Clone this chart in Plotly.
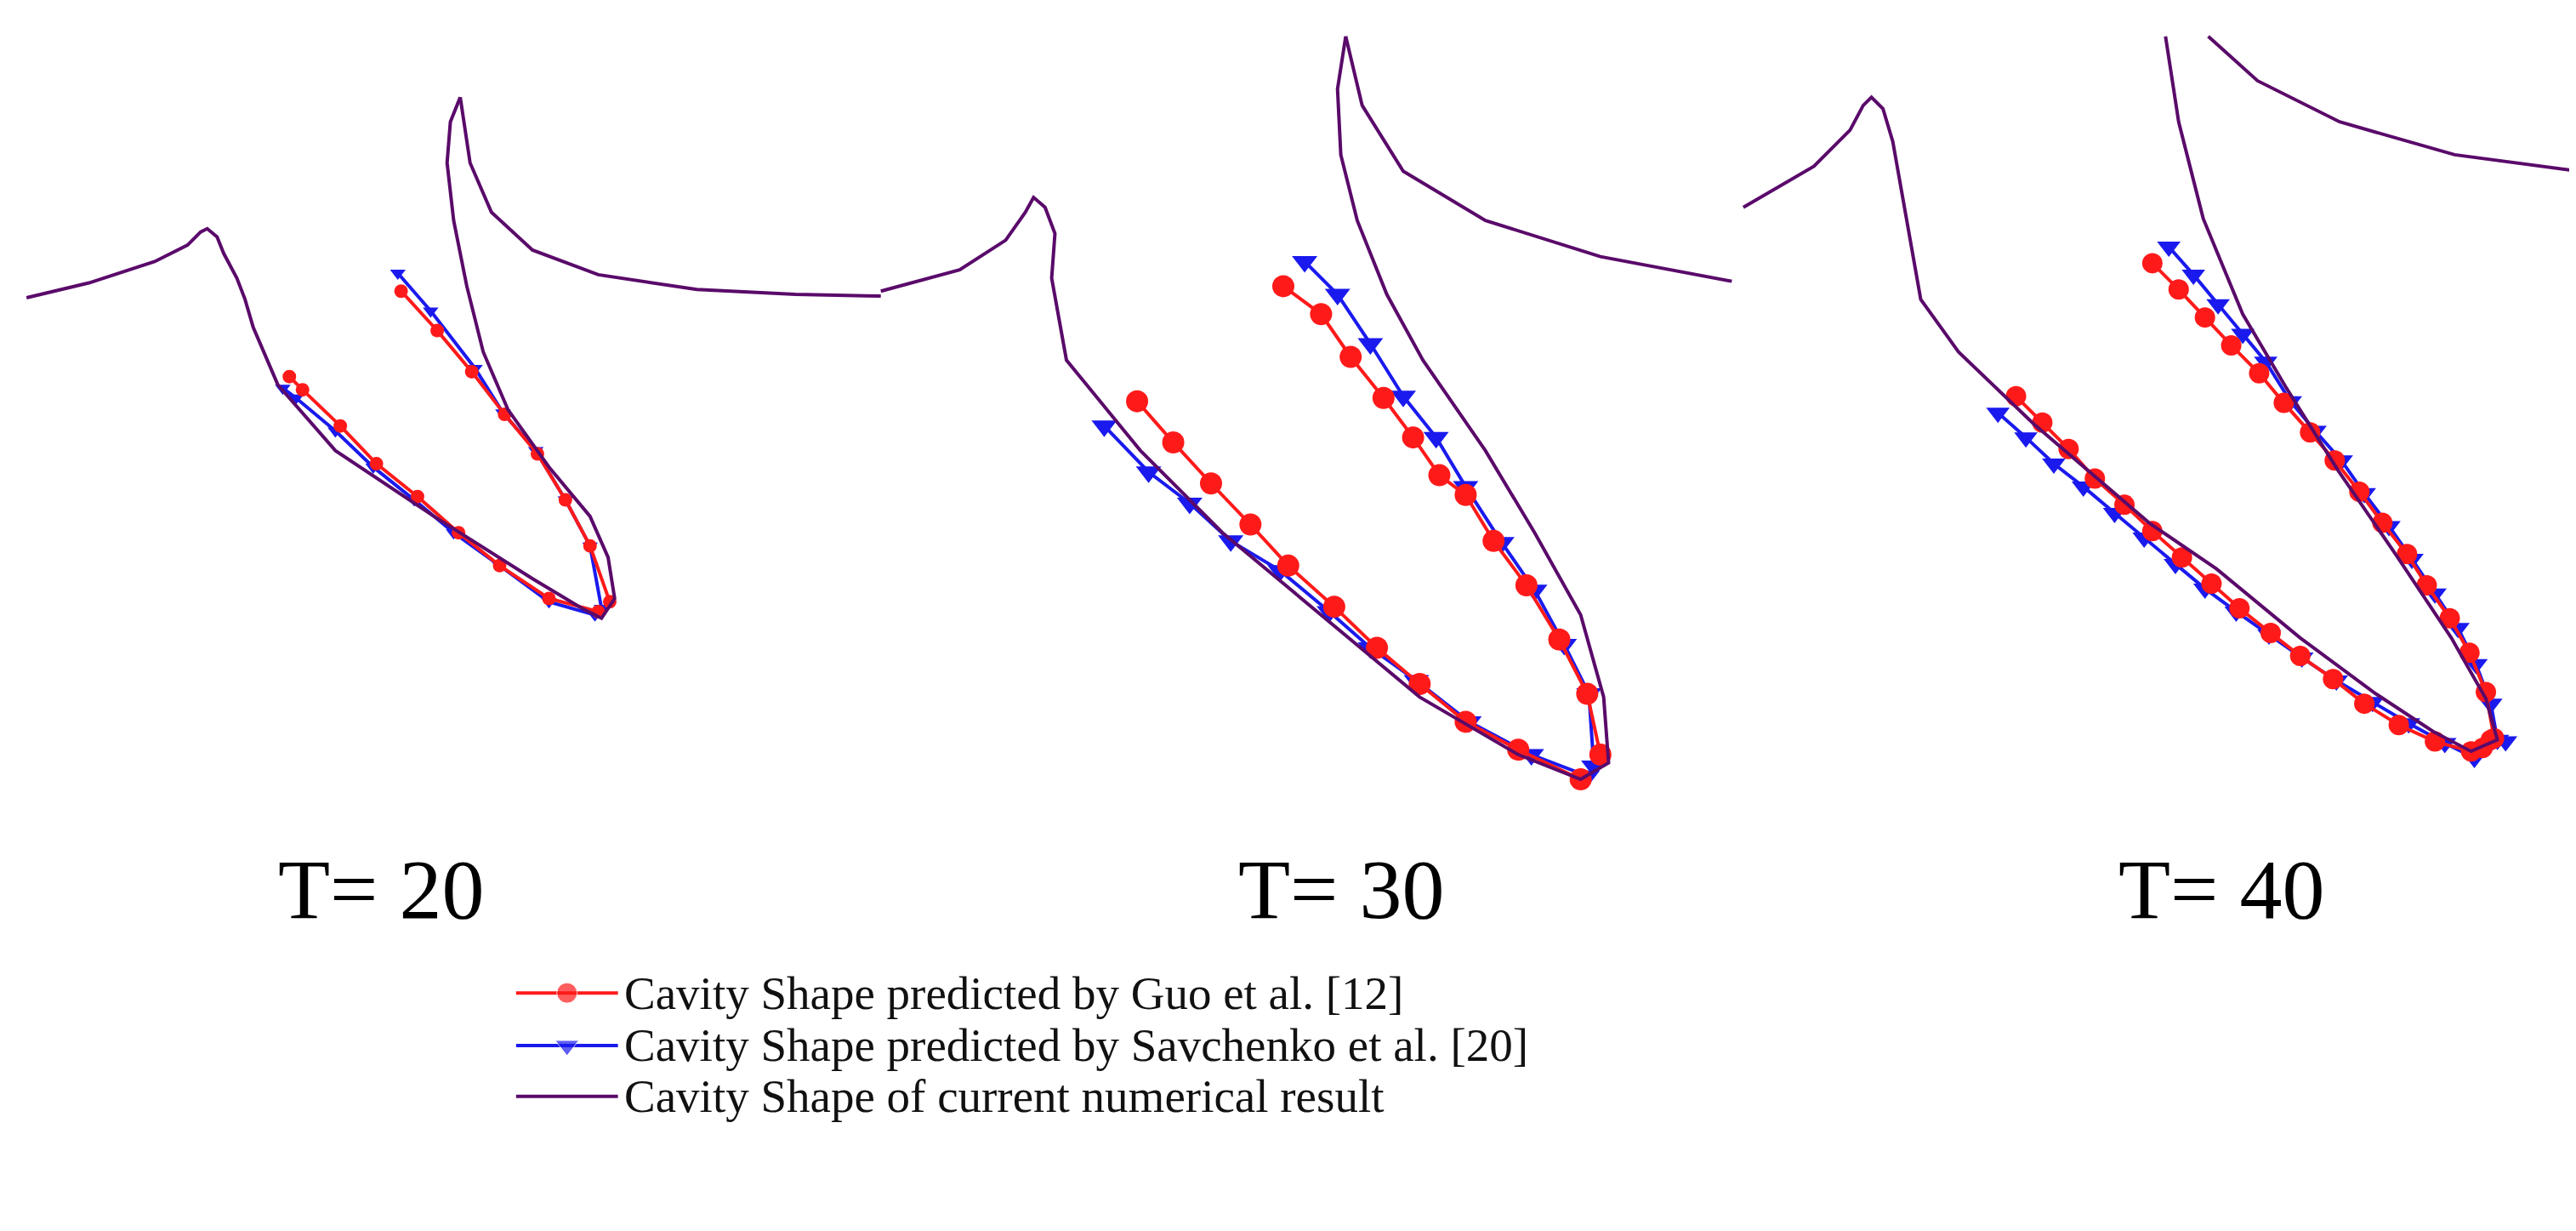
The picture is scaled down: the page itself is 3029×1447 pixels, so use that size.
import plotly.graph_objects as go

# Coordinates are in the reference picture's own units (1568 x 749 view)
# Panel T=20
p1_purple_outer_x = [12, 50, 90, 110, 118, 122, 128, 132, 140, 145, 150, 165, 200, 260, 320, 350, 362, 370, 366, 355, 330, 305, 290, 280, 272, 268, 270, 276]
p1_purple_outer_y = [177, 168, 155, 145, 137, 135, 140, 150, 165, 178, 195, 230, 270, 310, 348, 366, 372, 360, 335, 310, 280, 245, 210, 170, 130, 95, 70, 55]
p1_purple_top_x = [276, 282, 295, 320, 360, 420, 480, 532]
p1_purple_top_y = [55, 95, 125, 148, 163, 172, 175, 176]
p1_red_up_x = [240, 262, 283, 303, 323, 340, 355, 367]
p1_red_up_y = [173, 197, 222, 248, 272, 300, 328, 362]
p1_blue_up_x = [238, 258, 285, 302, 322, 340, 355, 362]
p1_blue_up_y = [162, 185, 220, 247, 270, 300, 328, 366]
p1_red_lo_x = [172, 180, 203, 225, 250, 275, 300, 330, 360]
p1_red_lo_y = [225, 233, 255, 278, 298, 320, 340, 360, 368]
p1_blue_lo_x = [168, 176, 200, 223, 248, 272, 300, 330, 358]
p1_blue_lo_y = [232, 238, 258, 280, 300, 320, 340, 362, 370]

# Panel T=30
p2_purple_outer_x = [532, 580, 608, 620, 625, 632, 638, 636, 645, 690, 740, 800, 860, 920, 958, 975, 972, 958, 930, 900, 862, 840, 822, 812, 810, 815]
p2_purple_outer_y = [173, 160, 142, 125, 116, 122, 138, 165, 215, 270, 320, 370, 420, 455, 470, 460, 420, 370, 320, 270, 215, 175, 130, 90, 50, 18]
p2_purple_top_x = [815, 825, 850, 900, 970, 1050]
p2_purple_top_y = [18, 60, 100, 130, 152, 167]
p2_red_up_x = [777, 800, 818, 838, 856, 872, 888, 905, 925, 945, 962, 970]
p2_red_up_y = [170, 187, 213, 238, 262, 285, 297, 325, 352, 385, 418, 455]
p2_blue_up_x = [790, 810, 830, 850, 870, 888, 910, 930, 948, 963, 966]
p2_blue_up_y = [155, 175, 205, 237, 262, 292, 326, 355, 388, 418, 462]
p2_red_lo_x = [688, 710, 733, 757, 780, 808, 834, 860, 888, 920, 958]
p2_red_lo_y = [240, 265, 290, 315, 340, 365, 390, 412, 435, 452, 470]
p2_blue_lo_x = [668, 695, 720, 745, 775, 805, 830, 858, 890, 928, 962]
p2_blue_lo_y = [255, 283, 302, 325, 343, 368, 390, 410, 435, 455, 468]

# Panel T=40
p3_purple_outer_x = [1057, 1100, 1122, 1130, 1135, 1142, 1148, 1158, 1165, 1188, 1234, 1304, 1345, 1396, 1442, 1477, 1500, 1516, 1509, 1488, 1454, 1419, 1387, 1361, 1337, 1322, 1314]
p3_purple_outer_y = [122, 97, 75, 60, 55, 62, 82, 140, 178, 210, 254, 314, 342, 384, 418, 441, 453, 446, 421, 384, 333, 282, 231, 187, 129, 70, 18]
p3_purple_top_x = [1340, 1370, 1420, 1490, 1565]
p3_purple_top_y = [18, 45, 70, 90, 100]
p3_red_up_x = [1306, 1322, 1338, 1354, 1371, 1386, 1402, 1417, 1432, 1446, 1461, 1473, 1487, 1499, 1509, 1514, 1507]
p3_red_up_y = [156, 172, 189, 206, 223, 241, 259, 276, 295, 314, 333, 352, 372, 393, 417, 445, 451]
p3_blue_up_x = [1316, 1331, 1346, 1361, 1375, 1390, 1405, 1421, 1435, 1450, 1464, 1478, 1492, 1503, 1512, 1516]
p3_blue_up_y = [146, 163, 181, 199, 216, 240, 258, 276, 296, 316, 336, 357, 378, 400, 424, 446]
p3_red_lo_x = [1223, 1239, 1255, 1271, 1289, 1306, 1324, 1342, 1359, 1378, 1396, 1416, 1435, 1456, 1478, 1500, 1512]
p3_red_lo_y = [237, 253, 269, 287, 303, 319, 335, 351, 366, 381, 395, 409, 424, 437, 447, 453, 446]
p3_blue_lo_x = [1212, 1229, 1246, 1264, 1283, 1301, 1320, 1338, 1357, 1377, 1397, 1418, 1440, 1462, 1484, 1502, 1521]
p3_blue_lo_y = [247, 262, 278, 292, 308, 323, 339, 354, 368, 382, 396, 410, 423, 436, 448, 457, 447]

panel_titles = ["T= 20", "T= 30", "T= 40"]
title_x = [228, 812, 1348]
legend_labels = ["Cavity Shape predicted by Guo et al. [12]",
                 "Cavity Shape predicted by Savchenko et al. [20]",
                 "Cavity Shape of current numerical result"]

RED, BLUE, PURPLE = "#ff1a1a", "#1a1aee", "#5a0a6a"
fig = go.Figure()

def line(x, y, color, w=4):
    fig.add_trace(go.Scatter(x=x, y=y, mode="lines", line=dict(color=color, width=w), showlegend=False))

def marked(x, y, color, symbol, size):
    fig.add_trace(go.Scatter(x=x, y=y, mode="lines+markers", line=dict(color=color, width=4),
                             marker=dict(color=color, symbol=symbol, size=size), showlegend=False))

panels = [
    (p1_purple_outer_x, p1_purple_outer_y, p1_purple_top_x, p1_purple_top_y, p1_red_up_x, p1_red_up_y, p1_blue_up_x, p1_blue_up_y, p1_red_lo_x, p1_red_lo_y, p1_blue_lo_x, p1_blue_lo_y, 16),
    (p2_purple_outer_x, p2_purple_outer_y, p2_purple_top_x, p2_purple_top_y, p2_red_up_x, p2_red_up_y, p2_blue_up_x, p2_blue_up_y, p2_red_lo_x, p2_red_lo_y, p2_blue_lo_x, p2_blue_lo_y, 26),
    (p3_purple_outer_x, p3_purple_outer_y, p3_purple_top_x, p3_purple_top_y, p3_red_up_x, p3_red_up_y, p3_blue_up_x, p3_blue_up_y, p3_red_lo_x, p3_red_lo_y, p3_blue_lo_x, p3_blue_lo_y, 24),
]
for px, py, tx, ty, rux, ruy, bux, buy, rlx, rly, blx, bly, ms in panels:
    marked(bux, buy, BLUE, "triangle-down", ms)
    marked(blx, bly, BLUE, "triangle-down", ms)
    marked(rux, ruy, RED, "circle", ms)
    marked(rlx, rly, RED, "circle", ms)
    line(px, py, PURPLE)
    line(tx, ty, PURPLE)

# legend samples
leg_y = [600, 632, 663]
leg_colors = [RED, BLUE, PURPLE]
leg_symbols = ["circle", "triangle-down", None]
for yv, c, s, lab in zip(leg_y, leg_colors, leg_symbols, legend_labels):
    if s:
        fig.add_trace(go.Scatter(x=[310, 341, 372], y=[yv] * 3, mode="lines+markers",
                                 line=dict(color=c, width=4),
                                 marker=dict(color=c, symbol=s, size=[0, 24, 0]), showlegend=False))
    else:
        line([310, 372], [yv, yv], c)
    fig.add_annotation(x=375, y=yv, text=lab, showarrow=False, xanchor="left", yanchor="middle",
                       font=dict(family="Liberation Serif", size=55, color="#111"))

for t, xv in zip(panel_titles, title_x):
    fig.add_annotation(x=xv, y=537, text=t, showarrow=False, xanchor="center", yanchor="middle",
                       font=dict(family="Liberation Serif", size=100, color="#000"))

fig.update_xaxes(range=[0, 1568], visible=False)
fig.update_yaxes(range=[749, 0], visible=False)
fig.update_layout(width=3029, height=1447, margin=dict(l=0, r=0, t=0, b=0),
                  plot_bgcolor="white", paper_bgcolor="white")
fig.write_html("out.html")
